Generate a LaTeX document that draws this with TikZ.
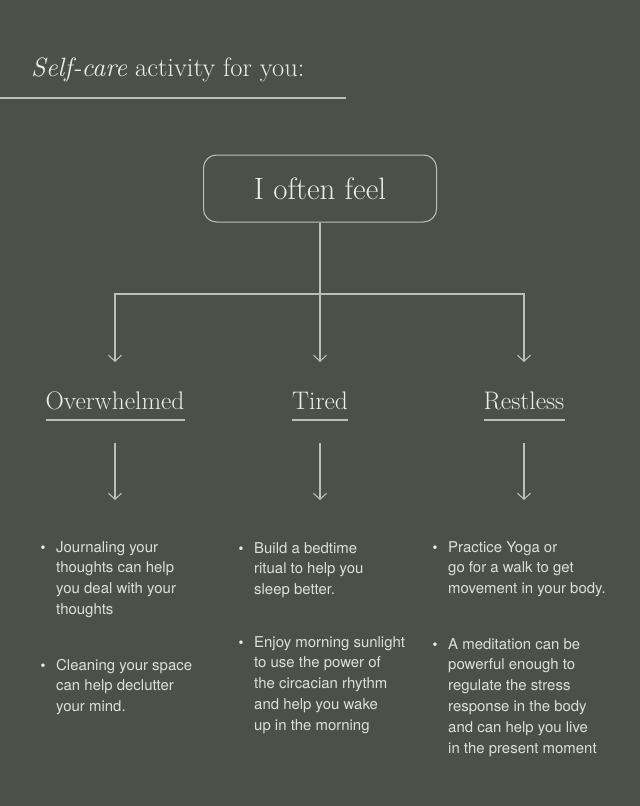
\documentclass[tikz,border=0pt]{standalone}
\usepackage{fontspec}
\newfontfamily\bodyfont{TeX Gyre Heros}
\usetikzlibrary{arrows.meta,calc}
\definecolor{bg}{HTML}{4B5149}
\definecolor{ink}{HTML}{EDEDE7}
\definecolor{soft}{HTML}{DEDFD8}
\definecolor{rulec}{HTML}{BDC0B8}
\newcommand{\bulpar}[1]{\parbox[t]{175bp}{\raggedright #1}}
\begin{document}
\begin{tikzpicture}[x=1bp,y=-1bp,
  hd/.style={font=\fontsize{25.5}{28}\selectfont, text=ink, inner sep=0, anchor=base},
  conn/.style={draw=rulec, line width=1.1bp},
  arr/.style={conn, -{Straight Barb[length=6bp,width=13bp,line width=1.1bp]}},
  uline/.style={draw=rulec, line width=1.4bp},
  bultext/.style={font=\bodyfont\fontsize{15}{21}\selectfont, text=soft, inner sep=0, anchor=base west},
  buldot/.style={font=\bodyfont\fontsize{14}{21}\selectfont, text=ink, inner sep=0, anchor=base}
]
\fill[bg] (0,0) rectangle (640,806);
\useasboundingbox (0,0) rectangle (640,806);

% title
\node[anchor=base west, inner sep=0, font=\fontsize{26.6}{30}\selectfont, text=ink] (title) at (31,77) {\textit{Self-care} activity for you:};
\coordinate (rl) at (0,98);
\coordinate (rr) at (346,98);
\draw[conn] (rl) -- (rr);

% main box
\node[draw=rulec, line width=1bp, rounded corners=13bp, minimum width=233bp, minimum height=67bp, inner sep=0, font=\fontsize{31}{34}\selectfont, text=ink] (feel) at (320,188.5) {I often feel};

% junction and arrow tips
\coordinate (j) at (320,294);
\coordinate (oa) at (115,362);
\coordinate (ta) at (320,362);
\coordinate (ra) at (524,362);
\draw[arr] (feel.south) -- (ta);
\draw[arr] (j) -| (oa);
\draw[arr] (j) -| (ra);

% labels
\node[hd] (ov) at (115,409) {Overwhelmed};
\node[hd] (ti) at (320,409) {Tired};
\node[hd] (re) at (524,409) {Restless};
\draw[uline] ($(ov.base west)+(1,11)$) -- ($(ov.base east)+(0,11)$);
\draw[uline] ($(ti.base west)+(0,11)$) -- ($(ti.base east)+(0,11)$);
\draw[uline] ($(re.base west)+(0,11)$) -- ($(re.base east)+(0,11)$);

% second arrows
\coordinate (o1) at (115,443); \coordinate (o2) at (115,500);
\coordinate (t1) at (320,443); \coordinate (t2) at (320,500);
\coordinate (r1) at (524,443); \coordinate (r2) at (524,500);
\draw[arr] (o1) -- (o2);
\draw[arr] (t1) -- (t2);
\draw[arr] (r1) -- (r2);

% column 1
\node[buldot] (d11) at (43,552) {\textbullet};
\node[bultext] (b11) at (56,552) {\bulpar{Journaling your\\thoughts can help\\you deal with your\\thoughts}};
\node[buldot] (d12) at (43,670) {\textbullet};
\node[bultext] (b12) at (56,670) {\bulpar{Cleaning your space\\can help declutter\\your mind.}};

% column 2
\node[buldot] (d21) at (241,553) {\textbullet};
\node[bultext] (b21) at (254,553) {\bulpar{Build a bedtime\\ritual to help you\\sleep better.}};
\node[buldot] (d22) at (241,647) {\textbullet};
\node[bultext] (b22) at (254,647) {\bulpar{Enjoy morning sunlight\\to use the power of\\the circacian rhythm\\and help you wake\\up in the morning}};

% column 3
\node[buldot] (d31) at (435,552) {\textbullet};
\node[bultext] (b31) at (448,552) {\bulpar{Practice Yoga or\\go for a walk to get\\movement in your body.}};
\node[buldot] (d32) at (435,649) {\textbullet};
\node[bultext] (b32) at (448,649) {\bulpar{A meditation can be\\powerful enough to\\regulate the stress\\response in the body\\and can help you live\\in the present moment}};
\end{tikzpicture}
\end{document}
